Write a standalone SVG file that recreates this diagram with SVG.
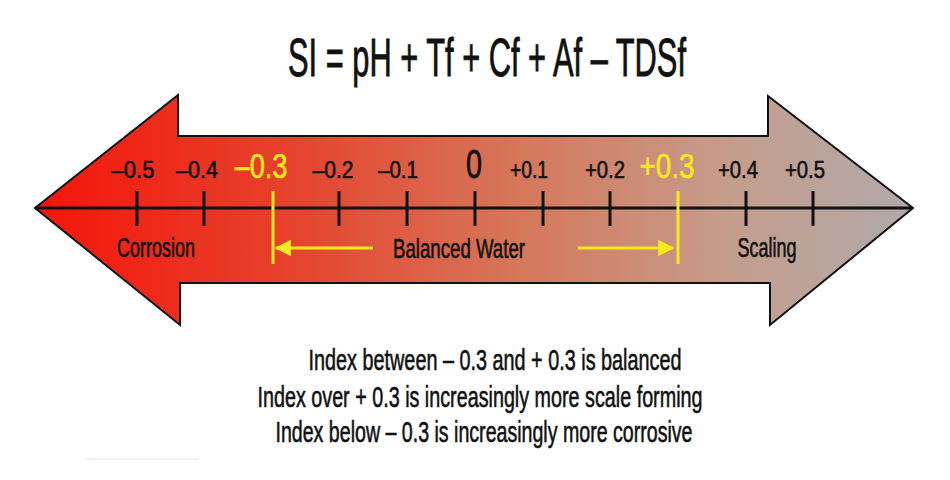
<svg xmlns="http://www.w3.org/2000/svg" width="950" height="480" viewBox="0 0 950 480">
<defs>
<linearGradient id="g" x1="35" y1="0" x2="913" y2="0" gradientUnits="userSpaceOnUse">
<stop offset="0" stop-color="#f5140a"/>
<stop offset="0.3" stop-color="#e5442e"/>
<stop offset="0.55" stop-color="#d6775a"/>
<stop offset="0.8" stop-color="#c49e8e"/>
<stop offset="1" stop-color="#b0aaa9"/>
</linearGradient>
<marker id="ah" viewBox="0 0 10 10" refX="9" refY="5" markerWidth="5.5" markerHeight="5.5" orient="auto" markerUnits="strokeWidth">
<path d="M0,0 L10,5 L0,10 z" fill="#f7ea1c"/>
</marker>
<style>
text{font-family:"Liberation Sans",Arial,sans-serif;fill:#111;text-anchor:middle;stroke:#111;stroke-width:0.6px}
.lb{font-size:24px}
.yl{font-size:35px;fill:#f7ea1c;stroke:#f7ea1c}
.zn{font-size:27px}
.bt{font-size:30px}
.tk{stroke:#111;stroke-width:3}
.yt{stroke:#f7ea1c;stroke-width:3}
</style>
</defs>
<text x="487" y="76" style="font-size:54px;stroke-width:0.9px" textLength="398" lengthAdjust="spacingAndGlyphs">SI = pH + Tf + Cf + Af – TDSf</text>
<g id="arrow">
<path d="M35,208 L178,95 L178,136 L768,136 L768,96 L913,208 L770,325 L770,283 L180,283 L180,325 Z" fill="url(#g)" stroke="#111" stroke-width="2" stroke-linejoin="miter"/>
<line x1="35" y1="208" x2="913" y2="208" stroke="#111" stroke-width="3"/>
</g>
<g id="ticks">
<line class="tk" x1="137" y1="191" x2="137" y2="226"/>
<line class="tk" x1="204" y1="191" x2="204" y2="226"/>
<line class="tk" x1="339" y1="191" x2="339" y2="226"/>
<line class="tk" x1="407" y1="191" x2="407" y2="226"/>
<line class="tk" x1="475" y1="191" x2="475" y2="226"/>
<line class="tk" x1="543" y1="191" x2="543" y2="226"/>
<line class="tk" x1="610" y1="191" x2="610" y2="226"/>
<line class="tk" x1="746" y1="191" x2="746" y2="226"/>
<line class="tk" x1="813" y1="191" x2="813" y2="226"/>
<line class="yt" x1="273" y1="191" x2="273" y2="264"/>
<line class="yt" x1="678" y1="191" x2="678" y2="264"/>
</g>
<g id="labels">
<text class="lb" x="133" y="178" textLength="43" lengthAdjust="spacingAndGlyphs">–0.5</text>
<text class="lb" x="197" y="178" textLength="42" lengthAdjust="spacingAndGlyphs">–0.4</text>
<text class="yl" x="261" y="178" textLength="53" lengthAdjust="spacingAndGlyphs">–0.3</text>
<text class="lb" x="333" y="178" textLength="41" lengthAdjust="spacingAndGlyphs">–0.2</text>
<text class="lb" x="398" y="178" textLength="40" lengthAdjust="spacingAndGlyphs">–0.1</text>
<text x="474" y="178" style="font-size:41px;stroke-width:0.8px" textLength="16" lengthAdjust="spacingAndGlyphs">0</text>
<text class="lb" x="529" y="178" textLength="38" lengthAdjust="spacingAndGlyphs">+0.1</text>
<text class="lb" x="605" y="178" textLength="40" lengthAdjust="spacingAndGlyphs">+0.2</text>
<text class="yl" x="667" y="178" textLength="55" lengthAdjust="spacingAndGlyphs">+0.3</text>
<text class="lb" x="738" y="178" textLength="40" lengthAdjust="spacingAndGlyphs">+0.4</text>
<text class="lb" x="805" y="178" textLength="40" lengthAdjust="spacingAndGlyphs">+0.5</text>
</g>
<g id="zones">
<text class="zn" x="156" y="257" textLength="78" lengthAdjust="spacingAndGlyphs">Corrosion</text>
<text class="zn" x="459" y="258" textLength="132" lengthAdjust="spacingAndGlyphs">Balanced Water</text>
<text class="zn" x="767" y="257" textLength="59" lengthAdjust="spacingAndGlyphs">Scaling</text>
</g>
<g id="connectors">
<line x1="373" y1="248" x2="276" y2="248" stroke="#f7ea1c" stroke-width="3" marker-end="url(#ah)"/>
<line x1="578" y1="248" x2="673" y2="248" stroke="#f7ea1c" stroke-width="3" marker-end="url(#ah)"/>
</g>
<g id="notes">
<text class="bt" x="495" y="370" textLength="373" lengthAdjust="spacingAndGlyphs">Index between – 0.3 and + 0.3 is balanced</text>
<text class="bt" x="480" y="407" textLength="445" lengthAdjust="spacingAndGlyphs">Index over + 0.3 is increasingly more scale forming</text>
<text class="bt" x="484" y="442" textLength="417" lengthAdjust="spacingAndGlyphs">Index below – 0.3 is increasingly more corrosive</text>
</g>
<line x1="86" y1="459" x2="199" y2="459" stroke="#dde7ef" stroke-width="1"/>
</svg>
